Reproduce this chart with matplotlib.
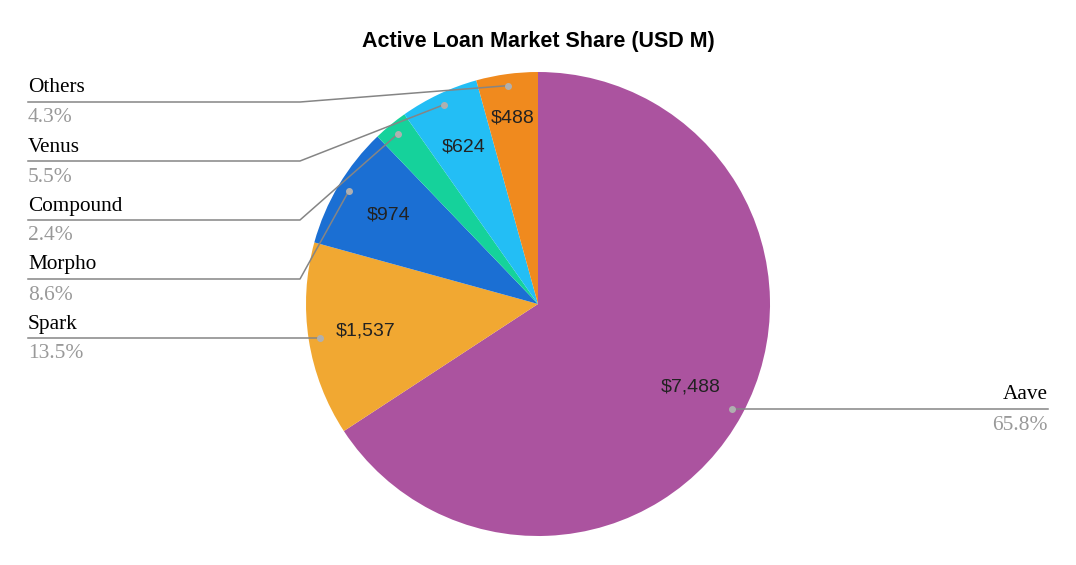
import matplotlib.pyplot as plt
import numpy as np

platforms = ["Aave", "Spark", "Morpho", "Compound", "Venus", "Others"]
loans_usd_m = [7488, 1537, 974, 273, 624, 488]
colors = ["#AB539F", "#F1A832", "#1B6FD3", "#15D29B", "#23BEF5", "#F08A1E"]

W, H = 1076, 565

def Y(y):
    # layout given in pixel rows from the top
    return H - y

fig = plt.figure(figsize=(W / 100, H / 100), dpi=100)
ax = fig.add_axes([0, 0, 1, 1])
ax.set_xlim(0, W)
ax.set_ylim(0, H)
ax.set_aspect("equal")
ax.axis("off")

cx, cy, R = 538, Y(304), 232
wedges, _ = ax.pie(loans_usd_m, colors=colors, startangle=90, counterclock=False,
                   center=(cx, cy), radius=R, wedgeprops=dict(linewidth=0))
ax.set_xlim(0, W)
ax.set_ylim(0, H)

total = sum(loans_usd_m)
serif = "Liberation Serif"
sans = "Liberation Sans"

# value labels inside slices
for w, v in zip(wedges, loans_usd_m):
    if v / total < 0.03:
        continue
    a = np.deg2rad((w.theta1 + w.theta2) / 2)
    r = 0.81 if v / total < 0.05 else 0.75
    ax.text(cx + r * R * np.cos(a), cy + r * R * np.sin(a), f"${v:,}",
            ha="center", va="center", fontsize=14, family=sans, color="#222222")

# callout labels
left_rows = {"Others": 88, "Venus": 147, "Compound": 206, "Morpho": 265, "Spark": 324}
for w, name, v in zip(wedges, platforms, loans_usd_m):
    a = np.deg2rad((w.theta1 + w.theta2) / 2)
    dx, dy = cx + 0.95 * R * np.cos(a), cy + 0.95 * R * np.sin(a)
    pct = f"{100 * v / total:.1f}%"
    if name in left_rows:
        ny = left_rows[name]
        ly = Y(ny + 14)
        ax.text(28, Y(ny), name, ha="left", va="center", fontsize=15.3, family=serif, color="#000000")
        ax.text(28, Y(ny + 30), pct, ha="left", va="center", fontsize=15.5, family=serif, color="#999999")
        if abs(dy - ly) < 5:
            ax.plot([28, dx], [ly, ly], color="#858585", lw=1.1, zorder=3)
        else:
            ax.plot([28, 300, dx], [ly, ly, dy], color="#858585", lw=1.1, zorder=3)
    else:
        ly = dy
        ax.text(1048, ly + 14, name, ha="right", va="center", fontsize=15.3, family=serif, color="#000000")
        ax.text(1048, ly - 17, pct, ha="right", va="center", fontsize=15.5, family=serif, color="#999999")
        ax.plot([dx, 1048], [ly, ly], color="#858585", lw=1.1, zorder=3)
    ax.plot(dx, dy, "o", color="#B0B0B0", markersize=4, zorder=4)

ax.text(W / 2, Y(42), "Active Loan Market Share (USD M)", ha="center", va="center",
        fontsize=15.5, fontweight="bold", family=sans, color="#000000")

fig.savefig("out.png", dpi=100)
